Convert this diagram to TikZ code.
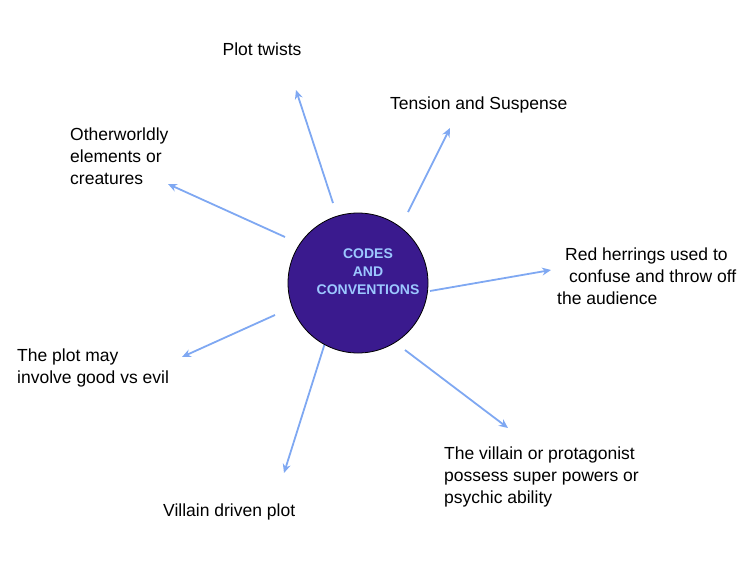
\documentclass[tikz,border=0pt]{standalone}
\usepackage{fontspec}
\setmainfont{Liberation Sans}
\usetikzlibrary{arrows.meta}
\definecolor{arr}{HTML}{7FA8F2}
\definecolor{disc}{HTML}{3A1A8E}
\definecolor{ctext}{HTML}{9CC8FF}
\begin{document}
\begin{tikzpicture}[x=1pt,y=-1pt,
  lab/.style={font=\fontsize{17.5}{22}\selectfont, inner sep=0pt, align=left},
  arrow/.style={draw=arr, line width=1.8pt, -{Stealth[length=9pt,width=8pt]}}]
\useasboundingbox (0,0) rectangle (738,573);
\coordinate (s1) at (333,203); \coordinate (e1) at (296,90);
\coordinate (s2) at (408,212); \coordinate (e2) at (450,128);
\coordinate (s3) at (285,237); \coordinate (e3) at (168,184);
\coordinate (s4) at (430,291); \coordinate (e4) at (551,270);
\coordinate (s5) at (275,315); \coordinate (e5) at (182,357);
\coordinate (s6) at (405,350); \coordinate (e6) at (508,428);
\coordinate (s7) at (330,327); \coordinate (e7) at (284,473);
\foreach \i in {1,...,7} \draw[arrow] (s\i) -- (e\i);
\node[circle, draw=black, line width=0.8pt, fill=disc, minimum size=140pt, inner sep=0pt] (c) at (358,283) {};
\node[text=ctext, font=\bfseries\fontsize{14}{18}\selectfont, align=center] (ct) at (368,272)
  {CODES\\AND\\CONVENTIONS};
\node[lab, anchor=base] (t1) at (262,55) {Plot twists};
\node[lab, anchor=base west] (t2) at (390,109) {Tension and Suspense};
\node[lab, anchor=north west] (t3) at (70,128) {Otherworldly\\elements or\\creatures};
\node[lab, anchor=north west] (t4) at (557,248) {\hspace{8pt}Red herrings used to\\\hspace{12pt}confuse and throw off\\the audience};
\node[lab, anchor=north west] (t5) at (17,349) {The plot may\\involve good vs evil};
\node[lab, anchor=north west] (t6) at (444,447) {The villain or protagonist\\possess super powers or\\psychic ability};
\node[lab, anchor=base west] (t7) at (163,516) {Villain driven plot};
\end{tikzpicture}
\end{document}
